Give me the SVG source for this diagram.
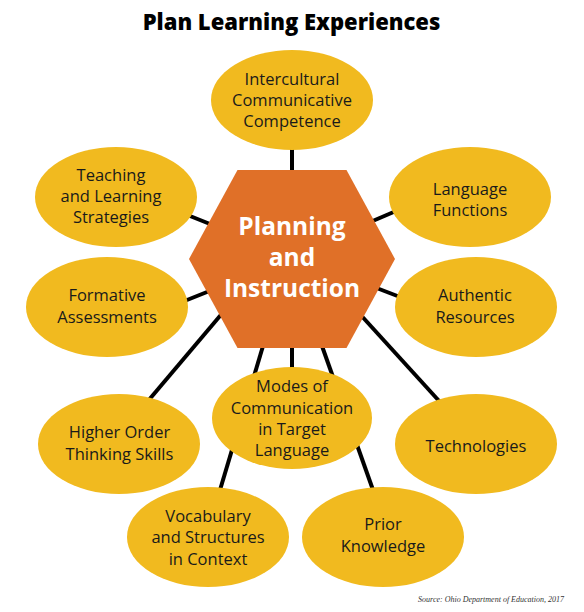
<svg xmlns="http://www.w3.org/2000/svg" width="584" height="612" viewBox="0 0 584 612">
<style>
.bg{fill:#ffffff}
.node ellipse{fill:#F1BA1F}
.lbl{font-family:"Open Sans","Noto Sans","DejaVu Sans",sans-serif;font-size:16.5px;fill:#1a1a1a;text-anchor:middle}
.hub{fill:#E07028}
.hubt{font-family:"Open Sans","Noto Sans","DejaVu Sans",sans-serif;font-size:24.5px;font-weight:700;fill:#ffffff;text-anchor:middle}
.title{font-family:"Open Sans","Noto Sans","DejaVu Sans",sans-serif;font-size:22px;font-weight:800;fill:#000000;text-anchor:middle}
.src{font-family:"Liberation Serif","Times New Roman",serif;font-size:8px;font-style:italic;fill:#333333;text-anchor:end}
#connectors line{stroke:#000000;stroke-width:4;stroke-linecap:butt}
</style>
<rect class="bg" x="0" y="0" width="584" height="612"/>
<text class="title" x="291.5" y="30">Plan Learning Experiences</text>
<g id="connectors">
<line x1="292" y1="148" x2="292" y2="172"/>
<line x1="185" y1="214" x2="215" y2="226"/>
<line x1="182" y1="302" x2="212" y2="290"/>
<line x1="368" y1="223" x2="396" y2="211"/>
<line x1="374" y1="287" x2="400" y2="297"/>
<line x1="358" y1="312" x2="440" y2="402"/>
<line x1="225" y1="310" x2="148" y2="401"/>
<line x1="292" y1="346" x2="292" y2="370"/>
<line x1="263" y1="346" x2="220" y2="490"/>
<line x1="322" y1="346" x2="373" y2="490"/>
</g>
<g id="hub">
<polygon class="hub" points="237.5,170 346.5,170 395,259 346.5,348 237.5,348 189,259"/>
<text class="hubt" x="292" y="235">Planning</text>
<text class="hubt" x="292" y="266">and</text>
<text class="hubt" x="292" y="297">Instruction</text>
</g>
<g id="n-intercultural" class="node">
<ellipse cx="292" cy="100" rx="81" ry="50"/>
<text class="lbl" x="292" y="85">Intercultural</text>
<text class="lbl" x="292" y="106">Communicative</text>
<text class="lbl" x="292" y="127">Competence</text>
</g>
<g id="n-teaching" class="node">
<ellipse cx="116" cy="197" rx="81" ry="50"/>
<text class="lbl" x="111" y="181">Teaching</text>
<text class="lbl" x="111" y="202">and Learning</text>
<text class="lbl" x="111" y="223">Strategies</text>
</g>
<g id="n-formative" class="node">
<ellipse cx="107" cy="307" rx="81" ry="50"/>
<text class="lbl" x="107" y="301">Formative</text>
<text class="lbl" x="107" y="323">Assessments</text>
</g>
<g id="n-language" class="node">
<ellipse cx="470" cy="197" rx="81" ry="50"/>
<text class="lbl" x="470" y="195">Language</text>
<text class="lbl" x="470" y="216">Functions</text>
</g>
<g id="n-authentic" class="node">
<ellipse cx="476" cy="307" rx="81" ry="50"/>
<text class="lbl" x="475" y="301">Authentic</text>
<text class="lbl" x="475" y="323">Resources</text>
</g>
<g id="n-modes" class="node">
<ellipse cx="292" cy="418" rx="80" ry="51"/>
<text class="lbl" x="292" y="392">Modes of</text>
<text class="lbl" x="292" y="414">Communication</text>
<text class="lbl" x="292" y="435">in Target</text>
<text class="lbl" x="292" y="456">Language</text>
</g>
<g id="n-higher" class="node">
<ellipse cx="119" cy="444" rx="81" ry="50"/>
<text class="lbl" x="119.5" y="438">Higher Order</text>
<text class="lbl" x="119.5" y="460">Thinking Skills</text>
</g>
<g id="n-technologies" class="node">
<ellipse cx="476" cy="444" rx="81" ry="50"/>
<text class="lbl" x="476" y="452">Technologies</text>
</g>
<g id="n-vocabulary" class="node">
<ellipse cx="208" cy="537" rx="81" ry="50"/>
<text class="lbl" x="208" y="522">Vocabulary</text>
<text class="lbl" x="208" y="543">and Structures</text>
<text class="lbl" x="208" y="565">in Context</text>
</g>
<g id="n-prior" class="node">
<ellipse cx="383" cy="537" rx="81" ry="50"/>
<text class="lbl" x="383" y="530">Prior</text>
<text class="lbl" x="383" y="552">Knowledge</text>
</g>
<text class="src" x="564" y="602">Source: Ohio Department of Education, 2017</text>
</svg>
